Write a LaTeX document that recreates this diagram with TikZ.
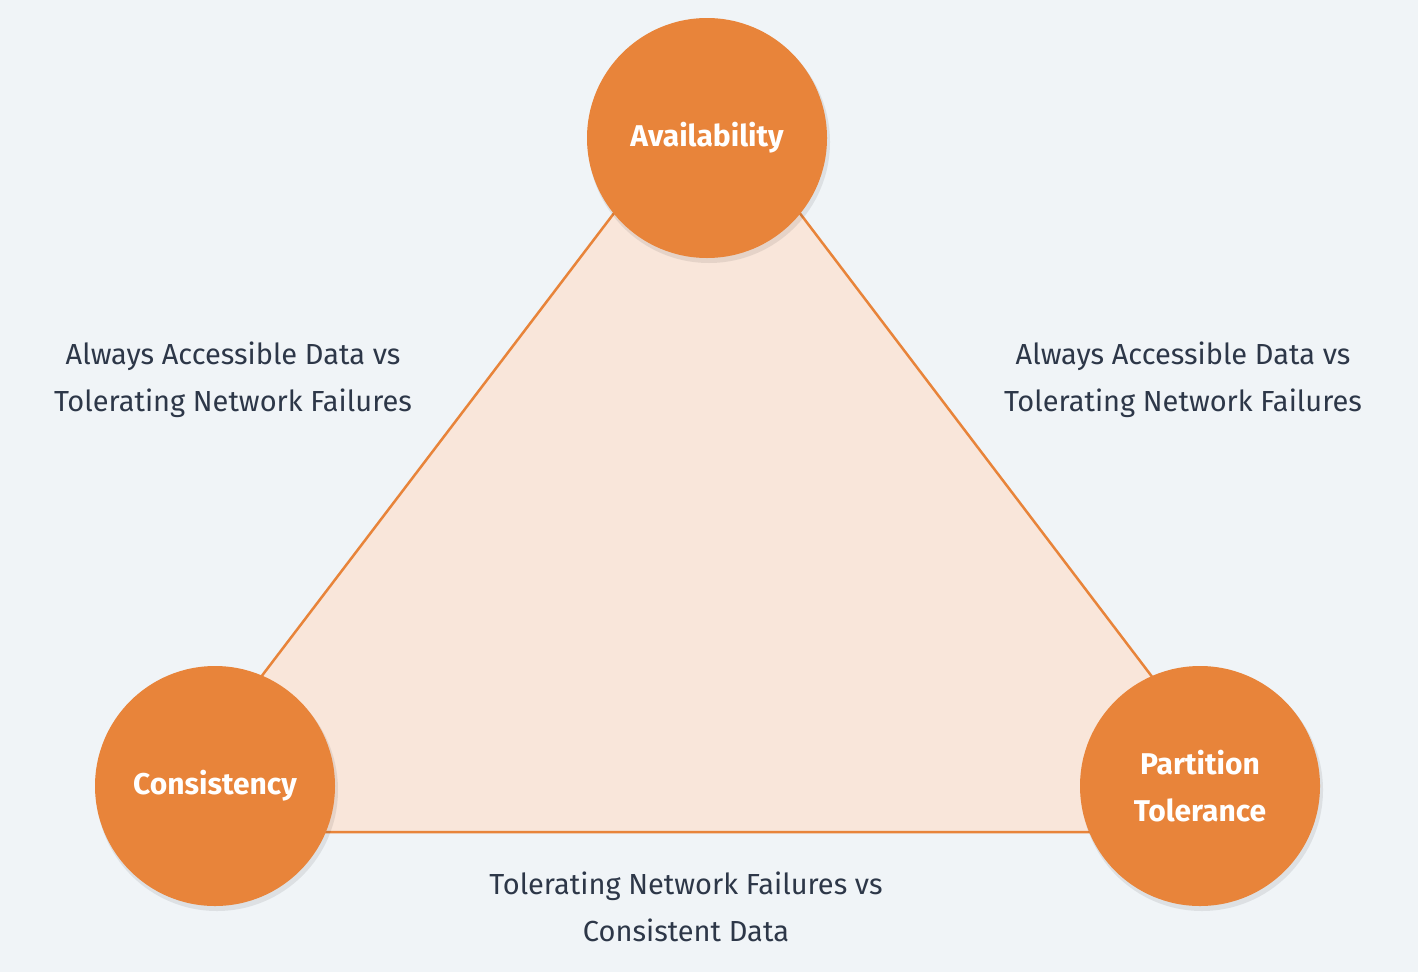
\documentclass[tikz,border=0pt]{standalone}
\usepackage{fontspec}
\setmainfont{Fira Sans}
\definecolor{bg}{HTML}{F0F4F7}
\definecolor{org}{HTML}{E8843A}
\definecolor{tri}{HTML}{F9E6DA}
\definecolor{txt}{HTML}{2D3748}
\begin{document}
\begin{tikzpicture}[x=1pt,y=-1pt,
  vert/.style={circle,fill=org,minimum size=240pt,inner sep=0pt,text=white,font=\fontsize{30}{47}\selectfont\bfseries,align=center},
  lab/.style={text=txt,font=\fontsize{29}{47}\selectfont,align=center}]
\fill[bg] (0,0) rectangle (1418,972);
\useasboundingbox (0,0) rectangle (1418,972);
\coordinate (t) at (707,91);
\coordinate (l) at (143,832);
\coordinate (r) at (1270,832);
\filldraw[fill=tri,draw=org,line width=2.5pt] (t) -- (l) -- (r) -- cycle;
\fill[black,opacity=0.08] (709,142) circle (121);
\fill[black,opacity=0.08] (217,790) circle (121);
\fill[black,opacity=0.08] (1202,790) circle (121);
\node[vert] (a) at (707,138) {Availability};
\node[vert] (c) at (215,786) {Consistency};
\node[vert] (p) at (1200,786) {Partition\\Tolerance};
\node[lab] (la) at (233,380) {Always Accessible Data vs\\Tolerating Network Failures};
\node[lab] (ra) at (1183,380) {Always Accessible Data vs\\Tolerating Network Failures};
\node[lab] (ba) at (686,907) {Tolerating Network Failures vs\\Consistent Data};
\end{tikzpicture}
\end{document}
